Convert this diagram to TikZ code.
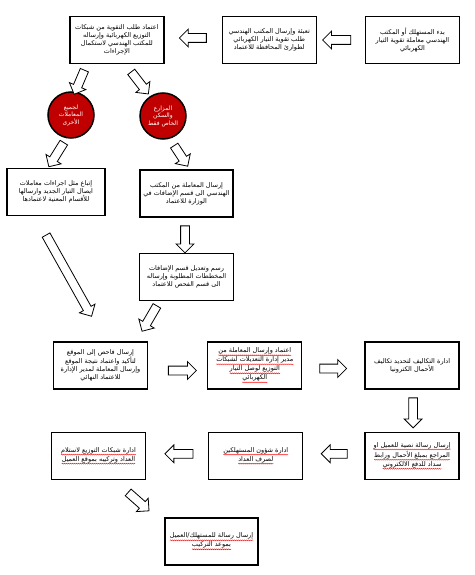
\documentclass[tikz,border=0pt]{standalone}
\usepackage{fontspec}
\newfontfamily\arabicfont[Script=Arabic]{DejaVu Sans}
\TeXXeTstate=1
\usetikzlibrary{arrows.meta,positioning,shapes.arrows,calc,decorations.pathmorphing}
\definecolor{stepred}{HTML}{C00000}
\newcommand{\rl}[1]{\beginR #1\endR}
\newcommand{\wl}[1]{\tikz[baseline=(w.base)]{\node[inner sep=0pt, outer sep=0pt, draw=none, fill=none, minimum width=0pt, minimum height=0pt, anchor=center] (w) at (0,0) {\beginR #1\endR}; \draw[red, line width=0.4pt, decorate, decoration={snake, amplitude=0.5pt, segment length=2pt}] ([yshift=-0.8pt]w.south west) -- ([yshift=-0.8pt]w.south east);}}

\begin{document}
\begin{tikzpicture}[
  x=1pt, y=-1pt,
  node distance=40pt,
  block/.style={rectangle, draw=black, line width=1.3pt, align=center, minimum width=94pt, minimum height=47pt, inner sep=2pt, font=\arabicfont\fontsize{6.5}{8}\selectfont},
  choice/.style={circle, draw=black, line width=1.5pt, fill=stepred, text=white, align=center, minimum size=46pt, inner sep=0pt, font=\arabicfont\fontsize{6}{7.5}\selectfont},
  fat/.style={to path={let \p1=(\tikztostart), \p2=(\tikztotarget), \n1={atan2(\y2-\y1,\x2-\x1)}, \n2={veclen(\x2-\x1,\y2-\y1)} in node[single arrow, draw=black, line width=0.8pt, fill=white, inner sep=4pt, single arrow head extend=4.5pt, minimum height=\n2, rotate=\n1] at ($(\p1)!0.5!(\p2)$) {}}}
]
\useasboundingbox (0,0) rectangle (474,575);

% first row
\node[block] (b1) at (412.5,40) {\rl{بدء المستهلك أو المكتب}\\\rl{الهندسي معاملة تقوية التيار}\\\rl{الكهربائي}};
\node[block, left=48pt of b1] (b2) {\rl{تعبئة وإرسال المكتب الهندسي}\\\rl{طلب تقوية التيار الكهربائي}\\\rl{لطوارئ المحافظة للاعتماد}};
\node[block, left=57pt of b2] (b3) {\rl{اعتماد طلب التقوية من شبكات}\\\rl{التوزيع الكهربائية وإرساله}\\\rl{للمكتب الهندسي لاستكمال}\\\rl{الإجراءات}};

% the two cases
\node[choice] (cl) at (71,115) {\rl{لجميع}\\\rl{المعاملات}\\\rl{الأخرى}};
\node[choice] (cr) at (163,116) {\rl{المزارع}\\\rl{والسكن}\\\rl{الخاص فقط}};

\node[block, minimum width=98pt] (lb) at (56,192) {\rl{إتباع مثل اجراءات معاملات}\\\rl{ايصال التيار الجديد وارسالها}\\\rl{للأقسام المعنية لاعتمادها}};
\node[block, minimum width=93pt] (rb) at (186.5,193.5) {\rl{إرسال المعاملة من المكتب}\\\rl{الهندسي الى قسم الإضافات في}\\\rl{الوزارة للاعتماد}};
\node[block, below=35pt of rb] (b7) {\rl{رسم وتعديل قسم الإضافات}\\\rl{المخططات المطلوبة وإرساله}\\\rl{الى قسم الفحص للاعتماد}};

% third row
\node[block] (r3L) at (100.5,365.5) {\rl{إرسال فاحص إلى الموقع}\\\rl{لتأكيد واعتماد نتيجة الموقع}\\\rl{وإرسال المعاملة لمدير الإدارة}\\\rl{للاعتماد النهائي}};
\node[block, right=59pt of r3L] (r3M) {\wl{اعتماد وإرسال المعاملة من}\\\wl{مدير إدارة التعديلات لشبكات}\\\wl{التوزيع لوصل التيار}\\\wl{الكهربائي}};
\node[block, right=62pt of r3M] (r3R) {\rl{ادارة التكاليف لتحديد تكاليف}\\\rl{الأحمال الكترونيا}};

% fourth row
\node[block, below=42pt of r3R] (r4R) {\wl{إرسال رسالة نصية للعميل او}\\\wl{المراجع بمبلغ الأحمال ورابط}\\\wl{سداد للدفع الالكتروني}};
\node[block, left=61pt of r4R] (r4M) {\wl{ادارة شؤون المستهلكين}\\\wl{لصرف العداد}};
\node[block, left=62pt of r4M] (r4L) {\wl{ادارة شبكات التوزيع لاستلام}\\\wl{العداد وتركيبه بموقع العميل}};

\node[block, minimum width=93pt] (fin) at (211.5,541.5) {\wl{إرسال رسالة للمستهلك/العميل}\\\wl{بموعد التركيب}};

% hollow arrows
\path ([xshift=-12pt]b1.west) to[fat] ([xshift=8pt]b2.east);
\path ([xshift=-13pt,yshift=2pt]b2.west) to[fat] ([xshift=17pt,yshift=2pt]b3.east);
\path ([xshift=16pt,yshift=-4pt]b3.south west) to[fat] ([xshift=4pt,yshift=-1pt]cl.north);
\path ([xshift=13pt,yshift=-6pt]b3.south) to[fat] ([xshift=-16pt]cr.north);
\path ([xshift=-6pt,yshift=-2pt]cl.south) to[fat] ([xshift=-6pt,yshift=3pt]lb.north);
\path ([xshift=10pt,yshift=-4pt]cr.south) to[fat] ([yshift=5pt]rb.north);
\path ([xshift=-1.5pt,yshift=-6pt]rb.south) to[fat] ([xshift=-1.5pt,yshift=2pt]b7.north);
\path ([xshift=-11pt,yshift=-17pt]lb.south) to[fat] ([xshift=-10pt,yshift=27pt]r3L.north);
\path ([xshift=-28.5pt,yshift=-3pt]b7.south) to[fat] ([xshift=-5pt,yshift=12pt]r3L.north east);
\path ([xshift=18pt,yshift=-5pt]r3L.east) to[fat] ([xshift=-13pt,yshift=-5pt]r3M.west);
\path ([xshift=15pt,yshift=-3pt]r3M.east) to[fat] ([xshift=-20pt,yshift=-3pt]r3R.west);
\path ([xshift=1pt,yshift=-6pt]r3R.south) to[fat] ([xshift=1pt,yshift=6pt]r4R.north);
\path ([xshift=-15pt,yshift=2pt]r4R.west) to[fat] ([xshift=20pt,yshift=2pt]r4M.east);
\path ([xshift=-13pt,yshift=2pt]r4M.west) to[fat] ([xshift=21pt,yshift=2pt]r4L.east);
\path ([xshift=28pt,yshift=-11pt]r4L.south) to[fat] ([xshift=-17pt,yshift=8pt]fin.north west);
\end{tikzpicture}
\end{document}
